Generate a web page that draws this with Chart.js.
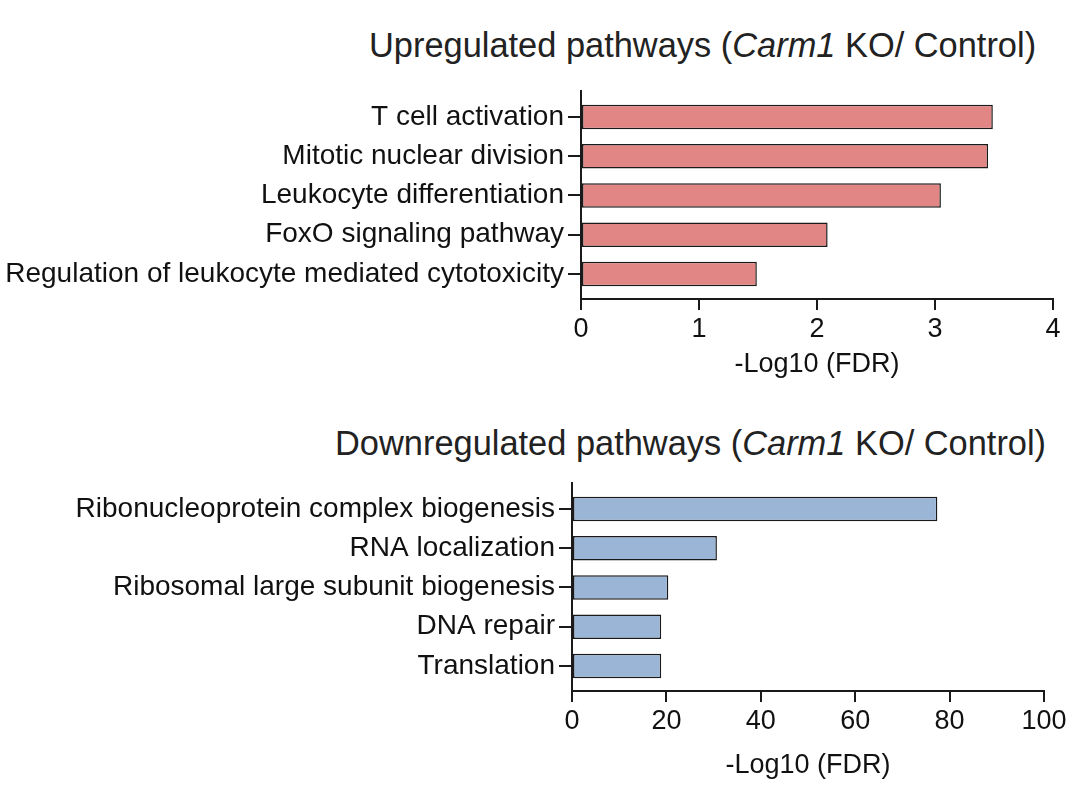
<!DOCTYPE html>
<html>
<head>
<meta charset="utf-8">
<script src="https://cdn.jsdelivr.net/npm/chart.js@4"></script>
<style>
  body { margin: 0; background: #fff; font-family: "Liberation Sans", Arial, sans-serif; }
  #wrap { position: relative; width: 1080px; height: 789px; }
  canvas { position: absolute; left: 0; }
  .title { position: absolute; font-size: 34.4px; color: #222; white-space: nowrap; line-height: 1; }
</style>
</head>
<body>
<div id="wrap">
  <div class="title" id="upTitle" style="left:369px; top:28px;">Upregulated pathways (<i>Carm1</i> KO/ Control)</div>
  <canvas id="upChart" width="1080" height="395" style="top:0"></canvas>
  <div class="title" id="downTitle" style="left:335px; top:426px;">Downregulated pathways (<i>Carm1</i> KO/ Control)</div>
  <canvas id="downChart" width="1080" height="394" style="top:395px"></canvas>
</div>
<script>
const upLabels = [
  "T cell activation",
  "Mitotic nuclear division",
  "Leukocyte differentiation",
  "FoxO signaling pathway",
  "Regulation of leukocyte mediated cytotoxicity"
];
const upValues = [3.49, 3.45, 3.05, 2.09, 1.49];

const downLabels = [
  "Ribonucleoprotein complex biogenesis",
  "RNA localization",
  "Ribosomal large subunit biogenesis",
  "DNA repair",
  "Translation"
];
const downValues = [77.4, 30.7, 20.4, 18.9, 18.9];

const upTicks = [0, 1, 2, 3, 4];
const downTicks = [0, 20, 40, 60, 80, 100];

const font = "'Liberation Sans', Arial, sans-serif";

function makeChart(id, labels, values, xTicks, fill, box) {
  const points = values.map((v, i) => ({ x: v, y: i }));
  return new Chart(document.getElementById(id), {
    type: "bar",
    data: {
      datasets: [{
        data: points,
        backgroundColor: fill,
        borderColor: "#1a1a1a",
        borderWidth: 1.5,
        borderSkipped: false,
        categoryPercentage: 0.8,
        barPercentage: 0.78
      }]
    },
    options: {
      indexAxis: "y",
      responsive: false,
      animation: false,
      layout: { padding: { top: box.top, right: box.right, left: 0, bottom: 0 } },
      plugins: { legend: { display: false }, tooltip: { enabled: false } },
      scales: {
        x: {
          type: "linear",
          min: xTicks[0],
          max: xTicks[xTicks.length - 1],
          afterBuildTicks: (s) => { s.ticks = xTicks.map((v) => ({ value: v })); },
          afterFit: (s) => { s.height = box.xHeight; },
          grid: { drawOnChartArea: false, color: "#1a1a1a", lineWidth: 2, tickLength: 11 },
          border: { color: "#1a1a1a", width: 2 },
          ticks: { color: "#111", font: { family: font, size: 27 }, padding: 3 },
          title: {
            display: true,
            text: "-Log10 (FDR)",
            color: "#111",
            font: { family: font, size: 27 },
            padding: { top: 0, bottom: box.titlePad }
          }
        },
        y: {
          type: "linear",
          reverse: true,
          offset: false,
          min: -0.66,
          max: labels.length - 1 + 0.64,
          afterBuildTicks: (s) => { s.ticks = labels.map((_, i) => ({ value: i })); },
          afterFit: (s) => { s.width = box.yWidth; },
          grid: { offset: false, drawOnChartArea: false, color: "#1a1a1a", lineWidth: 2, tickLength: 13 },
          border: { color: "#1a1a1a", width: 2 },
          ticks: {
            color: "#111",
            font: { family: font, size: 28 },
            padding: 4,
            autoSkip: false,
            callback: (v) => labels[v]
          }
        }
      }
    }
  });
}

makeChart("upChart", upLabels, upValues, upTicks, "#e18585",
  { top: 91, right: 27, xHeight: 96, yWidth: 581, titlePad: 14 });
makeChart("downChart", downLabels, downValues, downTicks, "#9bb5d7",
  { top: 88, right: 36, xHeight: 98, yWidth: 572, titlePad: 7 });
</script>
</body>
</html>
